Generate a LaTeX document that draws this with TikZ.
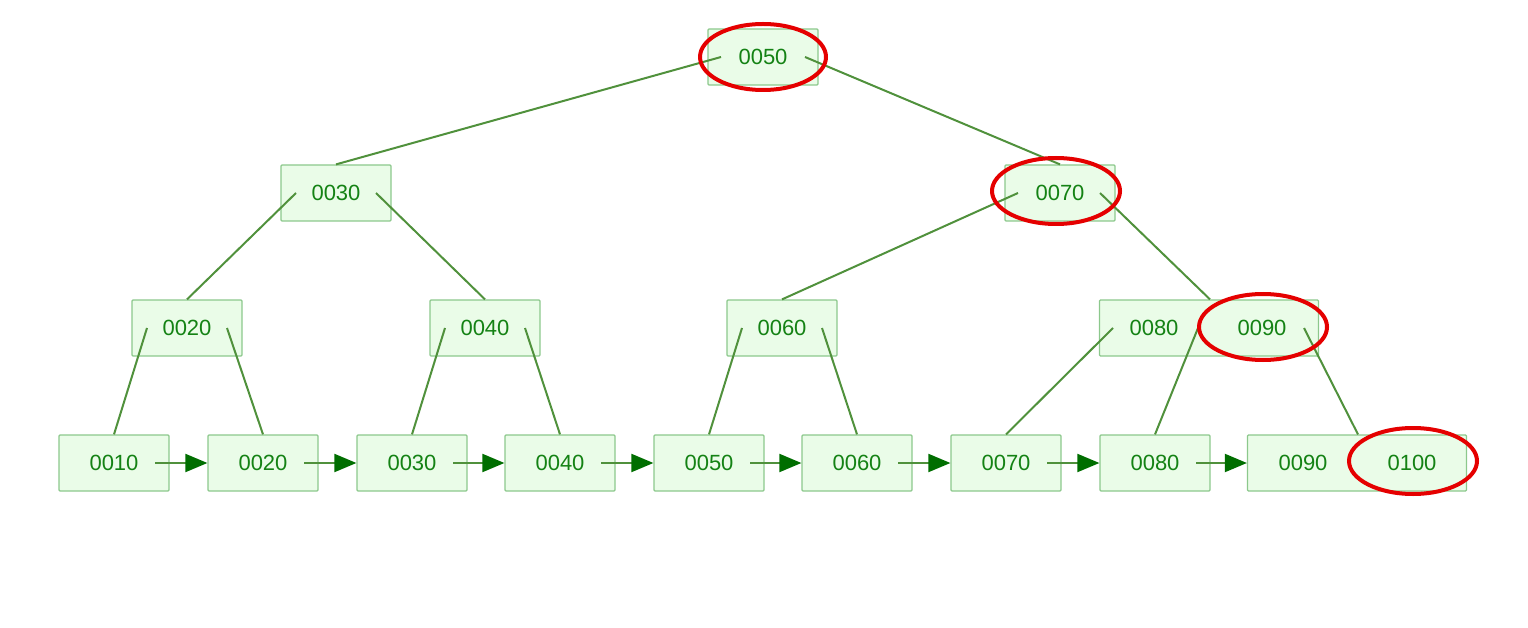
\documentclass[tikz,border=0pt]{standalone}
\usepackage{fontspec}
\setmainfont{Liberation Sans}
\usetikzlibrary{calc,arrows.meta}
\definecolor{bfill}{RGB}{234,252,232}
\definecolor{bdraw}{RGB}{140,200,140}
\definecolor{ln}{RGB}{80,145,60}
\definecolor{tx}{RGB}{20,130,20}
\definecolor{ar}{RGB}{0,110,0}
\begin{document}
\begin{tikzpicture}[x=1pt,y=-1pt,
  box/.style={draw=bdraw,fill=bfill,line width=1.2pt,minimum width=110pt,minimum height=56pt,inner sep=0pt,text=tx,font=\fontsize{22}{24}\selectfont,rounded corners=1pt},
  dbox/.style={box,minimum width=219pt},
  edge/.style={draw=ln,line width=2pt},
  nxt/.style={draw=ln,line width=2pt,-{Triangle[length=22pt,width=18pt,fill=ar,color=ar]}},
  hl/.style={draw=red!90!black,line width=4pt}]
\useasboundingbox (0,0) rectangle (1528,628);
% root
\node[box] (r) at (763,57) {0050};
\node[box] (a) at (336,193) {0030};
\node[box] (b) at (1060,193) {0070};
\node[box] (c1) at (187,328) {0020};
\node[box] (c2) at (485,328) {0040};
\node[box] (c3) at (782,328) {0060};
\node[dbox] (c4) at (1209,328) {};
\node[text=tx,font=\fontsize{22}{24}\selectfont] (c4a) at (1154,328) {0080};
\node[text=tx,font=\fontsize{22}{24}\selectfont] (c4b) at (1262,328) {0090};
\foreach \n/\x/\t in {l1/114/0010,l2/263/0020,l3/412/0030,l4/560/0040,l5/709/0050,l6/857/0060,l7/1006/0070,l8/1155/0080}
  \node[box] (\n) at (\x,463) {\t};
\node[dbox] (l9) at (1357,463) {};
\node[text=tx,font=\fontsize{22}{24}\selectfont] (l9a) at (1303,463) {0090};
\node[text=tx,font=\fontsize{22}{24}\selectfont] (l9b) at (1412,463) {0100};
% tree edges
\draw[edge] ($(r.center)+(-42,0)$) -- (a.north);
\draw[edge] ($(r.center)+(42,0)$) -- ($(b.north)+(0,0)$);
\draw[edge] ($(a.center)+(-40,0)$) -- (c1.north);
\draw[edge] ($(a.center)+(40,0)$) -- (c2.north);
\draw[edge] ($(b.center)+(-42,0)$) -- (c3.north);
\draw[edge] ($(b.center)+(40,0)$) -- ($(c4.north)+(1,0)$);
\draw[edge] ($(c1.center)+(-40,0)$) -- (l1.north);
\draw[edge] ($(c1.center)+(40,0)$) -- (l2.north);
\draw[edge] ($(c2.center)+(-40,0)$) -- (l3.north);
\draw[edge] ($(c2.center)+(40,0)$) -- (l4.north);
\draw[edge] ($(c3.center)+(-40,0)$) -- (l5.north);
\draw[edge] ($(c3.center)+(40,0)$) -- (l6.north);
\draw[edge] ($(c4a.center)+(-41,0)$) -- (l7.north);
\draw[edge] ($(c4b.center)+(-64,0)$) -- (l8.north);
\draw[edge] ($(c4b.center)+(42,0)$) -- ($(l9.north)+(1,0)$);
% leaf links
\foreach \p/\q in {l1/l2,l2/l3,l3/l4,l4/l5,l5/l6,l6/l7,l7/l8,l8/l9}
  \draw[nxt] ($(\p.center)+(41,0)$) -- (\q.west);
% highlights
\draw[hl] (r.center) ellipse[x radius=63,y radius=33];
\draw[hl] ($(b.center)+(-4,-2)$) ellipse[x radius=64,y radius=33];
\draw[hl] ($(c4b.center)+(1,-1)$) ellipse[x radius=64,y radius=33];
\draw[hl] ($(l9b.center)+(1,-2)$) ellipse[x radius=64,y radius=33];
\end{tikzpicture}
\end{document}
